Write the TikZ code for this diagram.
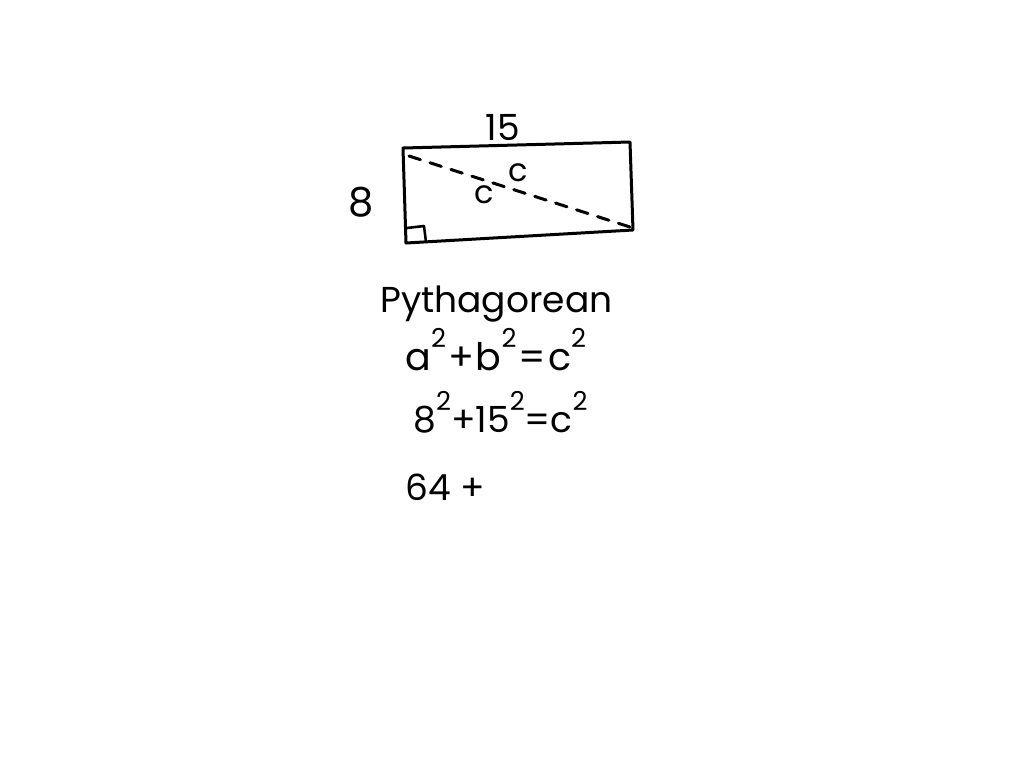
\documentclass[tikz,border=0pt]{standalone}
\usepackage{fontspec}
\setmainfont{Poppins}
\usetikzlibrary{positioning}
\newcommand{\sqr}{\raisebox{0.6em}{\fontsize{13}{13}\selectfont 2}}

\begin{document}
\begin{tikzpicture}
		[x=0.5pt,y=-0.5pt,line cap=round,line join=round,
		side/.style={draw,line width=1.5pt},
		hyp/.style={draw,line width=1.5pt,dash pattern=on 6pt off 5pt},
		hand/.style={font=\fontsize{18}{22}\selectfont,inner sep=0pt},
		small hand/.style={font=\fontsize{16}{18}\selectfont,inner sep=0pt}]
		\useasboundingbox (0,0) rectangle (1024,768);
		
		% rectangle
		\coordinate (tl) at (403,148);
		\coordinate (tr) at (630,142);
		\coordinate (br) at (633,230);
		\coordinate (bl) at (406,243);
		\path[side] (tl) -- (tr) -- (br) -- (bl) -- cycle;
		
		% right angle
		\coordinate (r1) at (407,228);
		\coordinate (r2) at (424,226);
		\coordinate (r3) at (426,242);
		\path[draw,line width=1.3pt] (r1) -- (r2) -- (r3);
		
		% diagonal
		\coordinate (d1) at (409,156);
		\coordinate (d2) at (630,227);
		\path[hyp] (d1) -- (d2);
		
		\node [hand] (top) at (503,127) {15};
		\node [hand,font=\fontsize{20}{24}\selectfont] (left) at (361,202) {8};
		\node [small hand] (c1) at (484,195) {c};
		\node [small hand] (c2) at (518,173) {c};
		
		% work
		\node [hand,anchor=base west] (name) at (380,312) {Pythagorean};
		\node [hand,anchor=base west,font=\fontsize{19}{22}\selectfont] (eq1) at (405,370) {a\sqr\kern1pt+\kern1pt b\sqr\kern1pt=\kern1pt c\sqr};
		\node [hand,anchor=base west] (eq2) at (413,432) {8\sqr+15\sqr=c\sqr};
		\node [hand,anchor=base west] (eq3) at (405,500) {64 +};
		
		\end{tikzpicture}
\end{document}
